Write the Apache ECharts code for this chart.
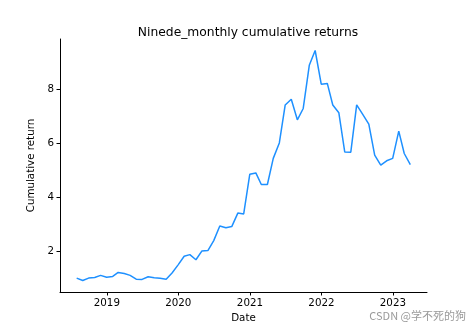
<!DOCTYPE html>
<html>
<head>
<meta charset="utf-8">
<script src="https://cdn.jsdelivr.net/npm/echarts@6/dist/echarts.min.js"></script>
<style>
html,body{margin:0;padding:0;background:#fff;}
#chart{width:474px;height:328px;}
</style>
</head>
<body>
<div id="chart"></div>
<script>
var dates = [
  '2018-07-31','2018-08-31','2018-09-30','2018-10-31','2018-11-30','2018-12-31',
  '2019-01-31','2019-02-28','2019-03-31','2019-04-30','2019-05-31','2019-06-30',
  '2019-07-31','2019-08-31','2019-09-30','2019-10-31','2019-11-30','2019-12-31',
  '2020-01-31','2020-02-29','2020-03-31','2020-04-30','2020-05-31','2020-06-30',
  '2020-07-31','2020-08-31','2020-09-30','2020-10-31','2020-11-30','2020-12-31',
  '2021-01-31','2021-02-28','2021-03-31','2021-04-30','2021-05-31','2021-06-30',
  '2021-07-31','2021-08-31','2021-09-30','2021-10-31','2021-11-30','2021-12-31',
  '2022-01-31','2022-02-28','2022-03-31','2022-04-30','2022-05-31','2022-06-30',
  '2022-07-31','2022-08-31','2022-09-30','2022-10-31','2022-11-30','2022-12-31',
  '2023-01-31','2023-02-28','2023-03-31'
];
var cumReturn = [
  1.01, 0.92, 1.01, 1.03, 1.11, 1.04,
  1.07, 1.22, 1.18, 1.11, 0.97, 0.96,
  1.06, 1.02, 1.00, 0.97, 1.20, 1.50,
  1.82, 1.88, 1.69, 2.01, 2.03, 2.40,
  2.94, 2.88, 2.92, 3.42, 3.39, 4.86,
  4.91, 4.48, 4.48, 5.45, 6.02, 7.43,
  7.64, 6.88, 7.30, 8.90, 9.45, 8.20,
  8.23, 7.43, 7.14, 5.69, 5.68, 7.43,
  7.08, 6.72, 5.57, 5.20, 5.36, 5.45,
  6.46, 5.63, 5.22
];
var xTickYears = ['2019','2020','2021','2022','2023'];
var yTicks = [2, 4, 6, 8];

var times = dates.map(function(d){ return new Date(d + 'T00:00:00Z').getTime(); });
var tMin = times[0], tMax = times[times.length-1];
var tPad = (tMax - tMin) * 0.05;
var vMin = Math.min.apply(null, cumReturn), vMax = Math.max.apply(null, cumReturn);
var vPad = (vMax - vMin) * 0.05;
var xTickVals = xTickYears.map(function(y){ return new Date(y + '-01-01T00:00:00Z').getTime(); });

var font = 'DejaVu Sans';
var chart = echarts.init(document.getElementById('chart'), null, {renderer:'canvas'});
chart.setOption({
  animation: false,
  backgroundColor: '#fff',
  title: {
    text: 'Ninede_monthly cumulative returns',
    left: 243, top: 22, textAlign: 'center',
    textStyle: {fontFamily: font, fontSize: 12.3, fontWeight: 'normal', color: '#000'}
  },
  grid: {left: 60, right: 47, top: 39, bottom: 36, containLabel: false},
  xAxis: {
    type: 'value',
    min: tMin - tPad, max: tMax + tPad,
    name: 'Date', nameLocation: 'middle', nameGap: 19,
    nameTextStyle: {fontFamily: font, fontSize: 10.3, color: '#000'},
    axisLine: {show: true, lineStyle: {color: '#000', width: 1}},
    axisTick: {show: true, length: 3.5, inside: false, customValues: xTickVals, lineStyle: {color: '#000'}},
    axisLabel: {
      customValues: xTickVals, margin: 6,
      fontFamily: font, fontSize: 10.3, color: '#000',
      formatter: function(v){ return String(new Date(v).getUTCFullYear()); }
    },
    splitLine: {show: false}
  },
  yAxis: {
    type: 'value',
    min: vMin - vPad, max: vMax + vPad,
    name: 'Cumulative return', nameLocation: 'middle', nameGap: 21,
    nameTextStyle: {fontFamily: font, fontSize: 10.3, color: '#000'},
    axisLine: {show: true, lineStyle: {color: '#000', width: 1}},
    axisTick: {show: true, length: 3.5, customValues: yTicks, lineStyle: {color: '#000'}},
    axisLabel: {customValues: yTicks, margin: 6, fontFamily: font, fontSize: 10.3, color: '#000'},
    splitLine: {show: false}
  },
  series: [{
    type: 'line',
    data: times.map(function(t, i){ return [t, cumReturn[i]]; }),
    showSymbol: false,
    lineStyle: {color: '#1E90FF', width: 1.5},
    itemStyle: {color: '#1E90FF'}
  }],
  graphic: [{
    type: 'text', right: 8, top: 310,
    style: {text: 'CSDN @学不死的狗', fill: '#9a9a9a', fontSize: 11, fontFamily: 'Noto Sans CJK SC'}
  }]
});
</script>
</body>
</html>
